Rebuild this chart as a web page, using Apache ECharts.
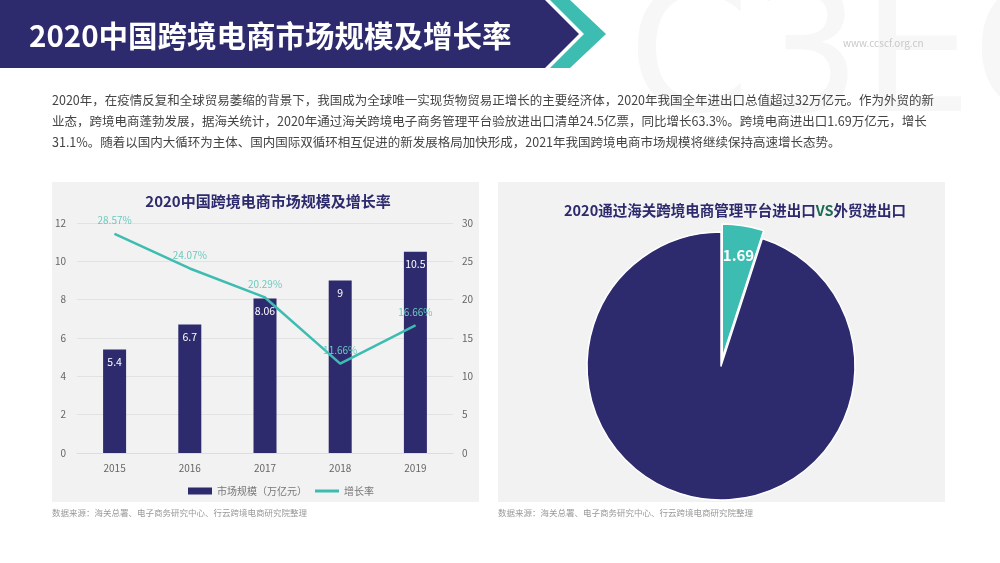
<!DOCTYPE html>
<html>
<head>
    <meta charset="utf-8">
    <title>2020中国跨境电商市场规模及增长率</title>
    <script src="https://cdn.jsdelivr.net/npm/echarts@6/dist/echarts.min.js"></script>
    <style>
        html, body { margin: 0; padding: 0; background: #fff; }
        #main { width: 1000px; height: 563px; }
    </style>
</head>
<body>
    <div id="main"></div>
    <script type="text/javascript">
        // 数据
        var years = ['2015', '2016', '2017', '2018', '2019'];
        var marketSize = [5.4, 6.7, 8.06, 9, 10.5];          // 市场规模（万亿元）
        var growthRate = [28.57, 24.07, 20.29, 11.66, 16.66]; // 增长率 %
        var pieNames = ['跨境电商进出口', '外贸进出口'];
        var pieValues = [1.69, 32.16];
        var paragraph = [
            '2020年，在疫情反复和全球贸易萎缩的背景下，我国成为全球唯一实现货物贸易正增长的主要经济体，2020年我国全年进出口总值超过32万亿元。作为外贸的新',
            '业态，跨境电商蓬勃发展，据海关统计，2020年通过海关跨境电子商务管理平台验放进出口清单24.5亿票，同比增长63.3%。跨境电商进出口1.69万亿元，增长',
            '31.1%。随着以国内大循环为主体、国内国际双循环相互促进的新发展格局加快形成，2021年我国跨境电商市场规模将继续保持高速增长态势。'
        ];
        var sourceText = '数据来源：海关总署、电子商务研究中心、行云跨境电商研究院整理';

        var NAVY = '#2d2a6d';
        var TEAL = '#3dbdb1';
        var FONT = '"Noto Sans CJK SC", "Noto Sans", sans-serif';

        var myChart = echarts.init(document.getElementById('main'));

        var graphics = [
            // 背景水印
            { type: 'text', z: -20, x: 628, y: -22, style: { text: 'C3EC', fill: '#f7f7f7', font: '175px "DejaVu Sans", sans-serif' } },
            // 灰色背景面板
            { type: 'rect', z: -10, shape: { x: 52, y: 182, width: 427, height: 320 }, style: { fill: '#f2f2f2' } },
            { type: 'rect', z: -10, shape: { x: 498, y: 182, width: 447, height: 320 }, style: { fill: '#f2f2f2' } },
            // 顶部标题条
            { type: 'polygon', shape: { points: [[0, 0], [545, 0], [579, 34], [545, 68], [0, 68]] }, style: { fill: NAVY } },
            { type: 'polygon', shape: { points: [[550, 0], [570, 0], [606, 34], [570, 68], [550, 68], [584, 34]] }, style: { fill: TEAL } },
            { type: 'text', x: 29, y: 36, style: { text: '2020中国跨境电商市场规模及增长率', fill: '#fff', font: 'bold 29.5px ' + FONT, textVerticalAlign: 'middle' } },
            { type: 'text', x: 843, y: 43, style: { text: 'www.ccscf.org.cn', fill: '#c8c8c8', font: '10px ' + FONT, textVerticalAlign: 'middle' } },
            // 来源
            { type: 'text', x: 52, y: 513, style: { text: sourceText, fill: '#999', font: '8.5px ' + FONT, textVerticalAlign: 'middle' } },
            { type: 'text', x: 498, y: 513, style: { text: sourceText, fill: '#999', font: '8.5px ' + FONT, textVerticalAlign: 'middle' } }
        ];
        paragraph.forEach(function (line, i) {
            graphics.push({
                type: 'text', x: 52, y: 100 + i * 21,
                style: { text: line, fill: '#444', font: '12.5px ' + FONT, textVerticalAlign: 'middle' }
            });
        });

        var option = {
            animation: false,
            textStyle: { fontFamily: FONT },
            graphic: graphics,
            title: [{
                text: '2020中国跨境电商市场规模及增长率',
                left: 263, top: 189, textAlign: 'center',
                textStyle: { color: NAVY, fontSize: 15, fontWeight: 'bold' }
            }, {
                text: '2020通过海关跨境电商管理平台进出口{vs|VS}外贸进出口',
                left: 730, top: 198, textAlign: 'center',
                textStyle: {
                    color: NAVY, fontSize: 14.5, fontWeight: 'bold',
                    rich: { vs: { color: '#1e6b55', fontSize: 14.5, fontWeight: 'bold' } }
                }
            }],
            legend: {
                left: 183, top: 481, orient: 'horizontal',
                textStyle: { color: '#777', fontSize: 10 },
                itemGap: 8,
                data: [
                    { name: '市场规模（万亿元）', icon: 'rect', itemStyle: { color: NAVY } },
                    { name: '增长率', icon: 'path://M0,0h24v3h-24z', itemStyle: { color: TEAL } }
                ],
                itemWidth: 24, itemHeight: 7
            },
            grid: { left: 77, right: 547, top: 223, bottom: 110 },
            xAxis: {
                type: 'category', data: years,
                axisLine: { lineStyle: { color: '#ddd' } },
                axisTick: { show: false },
                axisLabel: { color: '#666', fontSize: 10, margin: 10 }
            },
            yAxis: [{
                type: 'value', min: 0, max: 12, interval: 2,
                axisLine: { show: false }, axisTick: { show: false },
                axisLabel: { color: '#666', fontSize: 10, margin: 11 },
                splitLine: { lineStyle: { color: '#e2e2e2' } }
            }, {
                type: 'value', min: 0, max: 30, interval: 5,
                axisLine: { show: false }, axisTick: { show: false },
                axisLabel: { color: '#666', fontSize: 10, margin: 9 },
                splitLine: { show: false }
            }],
            series: [{
                name: '市场规模（万亿元）',
                type: 'bar', data: marketSize, barWidth: 23,
                itemStyle: { color: NAVY },
                label: { show: true, position: 'insideTop', distance: 7, color: '#fff', fontSize: 10.5 }
            }, {
                name: '增长率',
                type: 'line', yAxisIndex: 1, data: growthRate,
                symbol: 'circle', symbolSize: 1,
                lineStyle: { color: TEAL, width: 2.5 },
                itemStyle: { color: TEAL },
                label: {
                    show: true, position: 'top', distance: 8, color: '#6ccabf', fontSize: 10,
                    formatter: function (p) { return p.value.toFixed(2) + '%'; }
                }
            }, {
                type: 'pie', center: [721, 366], radius: [0, 134],
                startAngle: 90, clockwise: true,
                selectedMode: 'single', selectedOffset: 8,
                itemStyle: { borderColor: '#fff', borderWidth: 1.5 },
                label: { show: false }, labelLine: { show: false },
                emphasis: { disabled: true },
                data: [
                    { name: pieNames[0], value: pieValues[0], selected: true, itemStyle: { color: TEAL } },
                    { name: pieNames[1], value: pieValues[1], itemStyle: { color: NAVY } }
                ]
            }, {
                // 标签环（透明），用于把“1.69”放在靠外侧的位置
                type: 'pie', center: [721, 366], radius: [70, 132],
                startAngle: 90, clockwise: true,
                selectedMode: 'single', selectedOffset: 8,
                silent: true,
                itemStyle: { color: 'transparent' },
                labelLine: { show: false },
                emphasis: { disabled: true },
                data: [
                    { name: pieNames[0], value: pieValues[0], selected: true,
                      label: { show: true, position: 'inside', color: '#fff', fontSize: 15, fontWeight: 'bold',
                               formatter: function (p) { return p.value; } } },
                    { name: pieNames[1], value: pieValues[1], label: { show: false } }
                ]
            }]
        };

        myChart.setOption(option);
    </script>
</body>
</html>
